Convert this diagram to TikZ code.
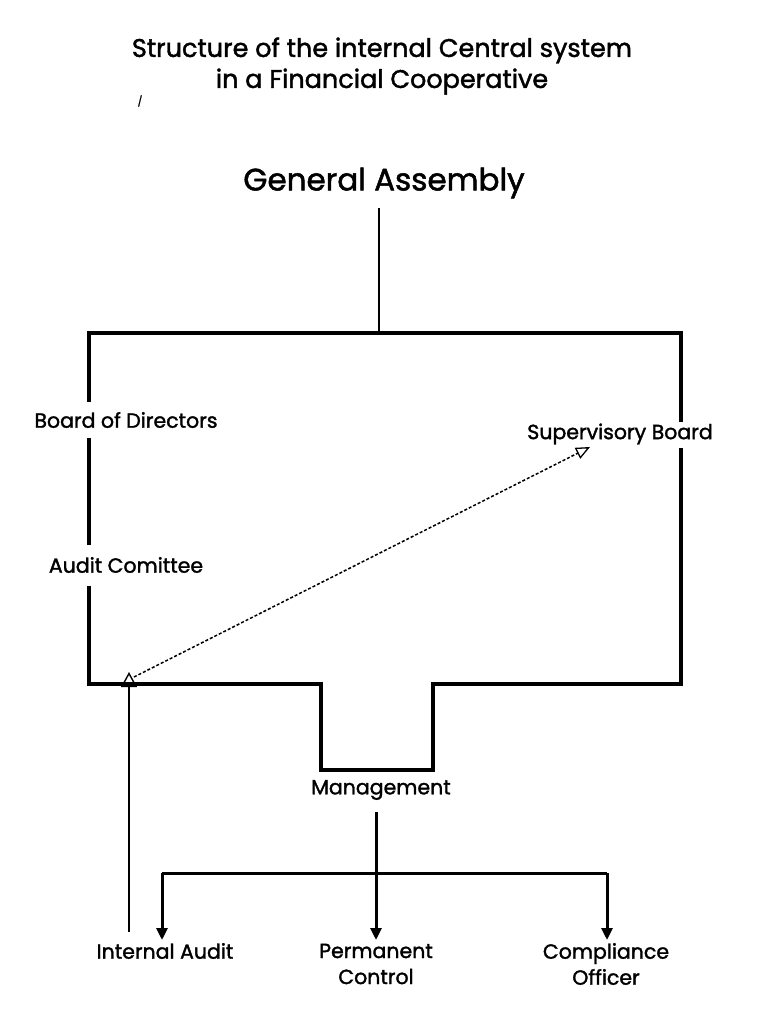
\documentclass[tikz,border=0pt]{standalone}
\usepackage{fontspec}
\setmainfont{Poppins}[FakeBold=1.6]
\usetikzlibrary{arrows.meta}

\begin{document}
\begin{tikzpicture}
[
    x=1pt, y=-1pt,
    every node/.style={font=\fontsize{20.5}{26}\selectfont, align=center, inner sep=0pt},
    heading/.style={font=\fontsize{25.5}{31}\selectfont},
    assembly/.style={font=\fontsize{31}{34}\selectfont},
    frame/.style={line width=3.2pt, line cap=rect},
    feed/.style={line width=3pt, -{Triangle[width=11pt,length=12pt]}},
    report/.style={line width=2.2pt, -{Triangle[open,width=16pt,length=15pt,line width=1.4pt]}},
    liaison/.style={line width=1.5pt, dash pattern=on 3pt off 2pt, -{Triangle[open,width=12pt,length=14pt,line width=1.3pt]}},
]
\useasboundingbox (0,0) rectangle (768,1024);
\node [heading] (title) at (382,66) {Structure of the internal Central system\\in a Financial Cooperative};
\node (tick) at (140,101) {\fontsize{10}{10}\selectfont /};
\node [assembly] (ga) at (384,183) {General Assembly};
\node (bod) at (126,420) {Board of Directors};
\node (ac) at (126,565) {Audit Comittee};
\node (sb) at (620,434) {Supervisory Board};
\node (mgmt) at (381,790) {Management};
\node (ia) at (165,951) {Internal Audit};
\node (pc) at (376,964) {Permanent\\Control};
\node (co) at (606,964) {Compliance\\Officer};
\coordinate (tl) at (89,333);
\coordinate (tr) at (681,333);
\coordinate (bl) at (89,684);
\coordinate (br) at (681,684);
\coordinate (nl) at (321,770);
\coordinate (nr) at (433,770);
\coordinate (foot) at (129,672);
\coordinate (busl) at (162,873);
\coordinate (busr) at (607,873);
\draw [line width=2.8pt] (379,208) -- (379,333);
\draw [frame] (89,400) -- (tl) -- (tr) -- (681,420);
\draw [frame] (89,440) -- (89,543);
\draw [frame] (89,588) -- (bl) -- (nl |- bl) -- (nl) -- (nr) -- (nr |- br) -- (br) -- (681,450);
\draw [report] (129,932) -- (foot);
\draw [liaison] (foot) ++(5,5) -- (590,447);
\draw [feed] (376,812) -- (376,940);
\draw [line width=3pt] (busl) -- (busr);
\draw [feed] (busl) -- (162,940);
\draw [feed] (busr) -- (607,940);
\end{tikzpicture}
\end{document}
